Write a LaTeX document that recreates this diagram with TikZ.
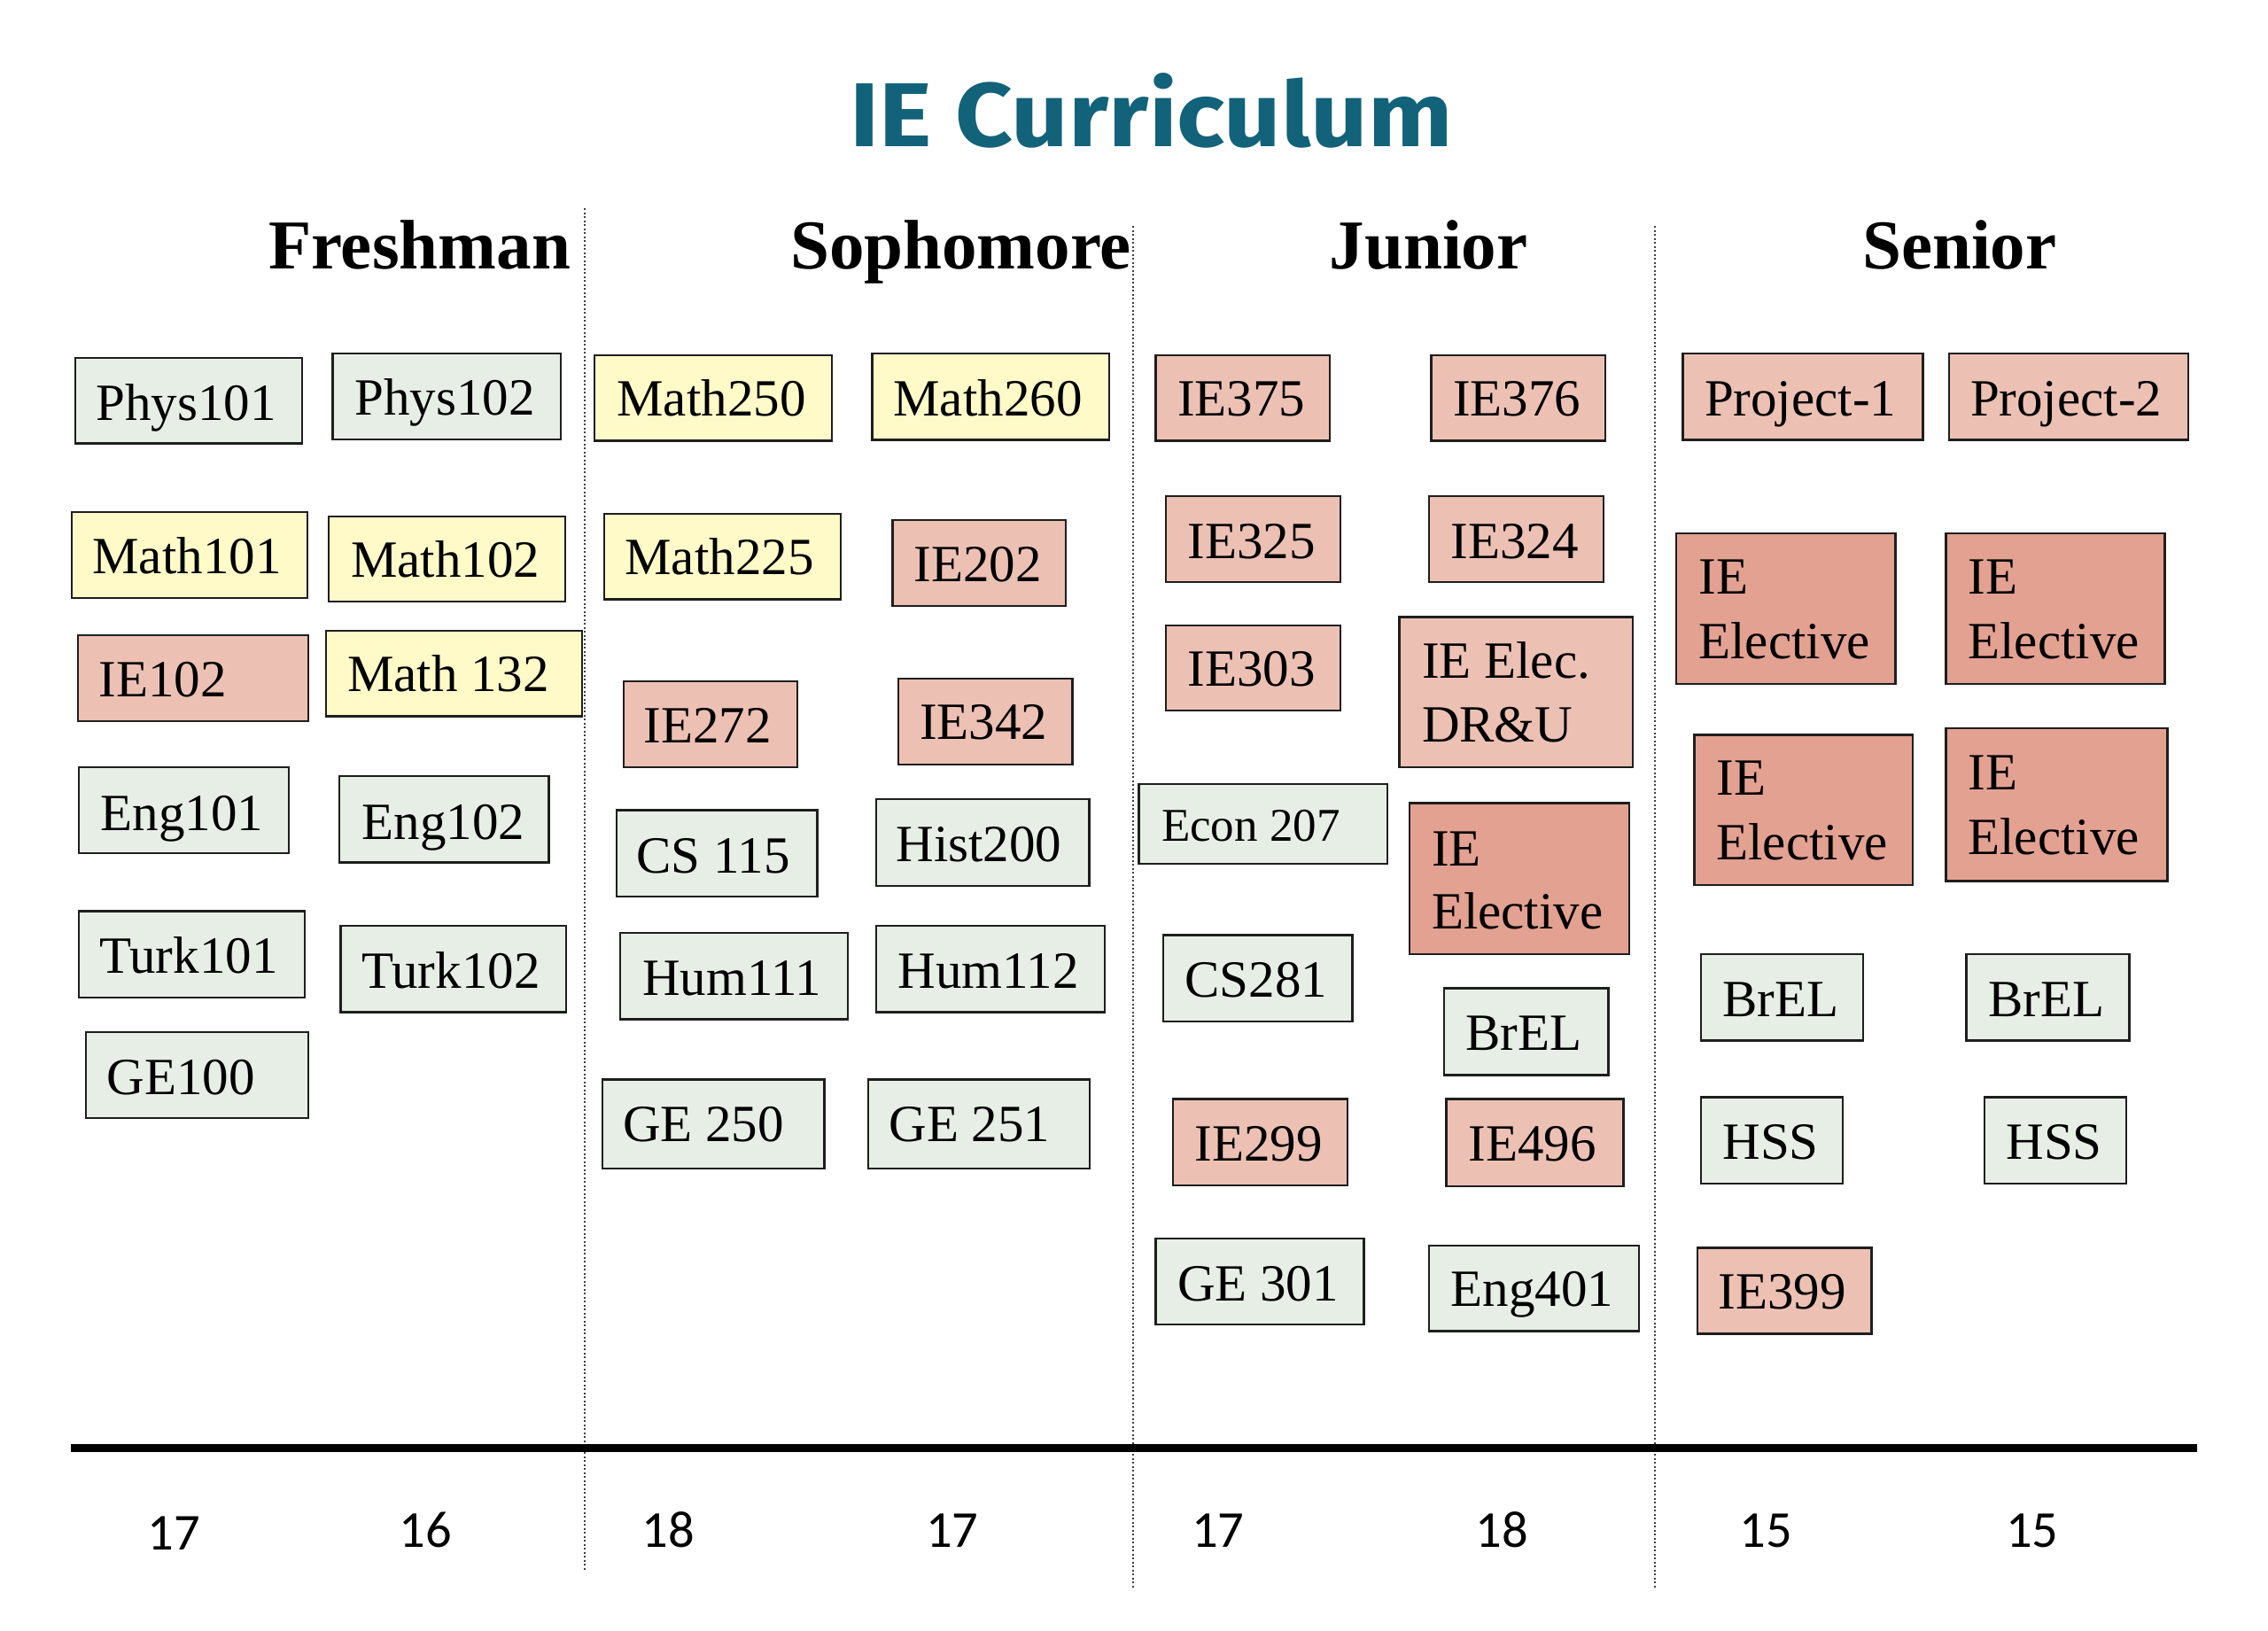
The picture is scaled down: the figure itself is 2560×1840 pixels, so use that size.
\documentclass[tikz,border=0pt]{standalone}
\usepackage{fontspec}
\usepackage{graphicx}
\setmainfont{Liberation Serif}
\newfontfamily\calfont{Carlito}
\newfontfamily\titlefont{Fira Sans}
\definecolor{cgrey}{RGB}{231,238,230}
\definecolor{cyel}{RGB}{255,250,200}
\definecolor{cpink}{RGB}{236,193,180}
\definecolor{cdark}{RGB}{226,161,145}
\definecolor{ctitle}{RGB}{18,98,122}
\definecolor{cborder}{RGB}{30,30,30}
\tikzset{
  crsbase/.style={draw=cborder, line width=2.5pt, font=\fontsize{59}{73}\selectfont},
  gcrs/.style={crsbase, fill=cgrey},
  ycrs/.style={crsbase, fill=cyel},
  pcrs/.style={crsbase, fill=cpink},
  dcrs/.style={crsbase, fill=cdark},
  yearhead/.style={anchor=base, inner sep=0pt, font=\fontsize{79}{79}\selectfont\bfseries},
  credit/.style={anchor=base, inner sep=0pt, font=\calfont\fontsize{58.5}{58.5}\selectfont},
  sepline/.style={draw=black!75, line width=2pt, dash pattern=on 2pt off 2.5pt},
}
% #1 name, #2 style, #3 x1, #4 y1, #5 x2, #6 y2, #7 text left, #8 first baseline, #9 text
\newcommand{\crsnl}{\\\hspace*{\cP pt}}
\newcommand{\crs}[9]{%
  \pgfmathsetmacro{\cW}{#5-#3}%
  \pgfmathsetmacro{\cP}{#7-#3-1.5}%
  \pgfmathsetmacro{\cB}{#8-#4}%
  \pgfmathsetmacro{\cD}{#6-#8}%
  \node[#2, anchor=north west, inner sep=0pt, outer sep=0pt,
        text width=\cW pt, text height=\cB pt, text depth=\cD pt, align=flush left]
        (#1) at (#3,#4) {\hspace*{\cP pt}#9};}
\begin{document}
\begin{tikzpicture}[x=1pt, y=-1pt]
\useasboundingbox (0,0) rectangle (2560,1840);
\fill[white] (0,0) rectangle (2560,1840);

% title
\node[anchor=base, inner sep=0pt, text=ctitle] (title) at (1299.6,165)
  {\resizebox{680pt}{83pt}{\titlefont\bfseries\fontsize{100}{100}\selectfont IE Curriculum}};

% year headings
\node[yearhead] (fresh) at (473.5,303.3) {Freshman};
\node[yearhead] (soph) at (1084.5,303.3) {Sophomore};
\node[yearhead] (junior) at (1612.6,303.3) {Junior};
\node[yearhead] (senior) at (2211.8,303.3) {Senior};

% separators
\coordinate (s1t) at (659.5,235); \coordinate (s1b) at (659.5,1772);
\coordinate (s2t) at (1278.5,255); \coordinate (s2b) at (1278.5,1792);
\coordinate (s3t) at (1867.8,255); \coordinate (s3b) at (1867.8,1792);
\draw[sepline] (s1t) -- (s1b);
\draw[sepline] (s2t) -- (s2b);
\draw[sepline] (s3t) -- (s3b);

% baseline rule
\coordinate (rl) at (80,1634.4); \coordinate (rr) at (2480,1634.4);
\draw[line width=9pt, black] (rl) -- (rr);

% Freshman
\crs{phys101}{gcrs}{85}{404}{341}{500.5}{110}{474}{Phys101}
\crs{math101}{ycrs}{81}{578}{347}{675}{106}{647}{Math101}
\crs{ie102}{pcrs}{88}{717}{348}{814}{113}{786}{IE102}
\crs{eng101}{gcrs}{89}{866}{326}{963}{115}{937}{Eng101}
\crs{turk101}{gcrs}{89}{1028.5}{344}{1126}{114}{1098}{Turk101}
\crs{ge100}{gcrs}{97}{1165}{348}{1262}{122}{1235}{GE100}
\crs{phys102}{gcrs}{375.5}{399}{633}{496}{402}{468}{Phys102}
\crs{math102}{ycrs}{371}{583}{638}{679}{397.5}{651}{Math102}
\crs{math132}{ycrs}{368}{712}{657}{808.5}{393.5}{780}{Math 132}
\crs{eng102}{gcrs}{383}{876}{619.5}{973.5}{410}{947}{Eng102}
\crs{turk102}{gcrs}{384.5}{1045}{639}{1142.5}{410}{1115}{Turk102}

% Sophomore
\crs{math250}{ycrs}{671}{401}{939}{497.5}{698}{469.5}{Math250}
\crs{math225}{ycrs}{682}{580}{949}{676.5}{707}{648}{Math225}
\crs{ie272}{pcrs}{704}{769}{900}{866}{728}{838}{IE272}
\crs{cs115}{gcrs}{696}{914.5}{922.5}{1012}{720}{985}{CS 115}
\crs{hum111}{gcrs}{700}{1053}{957}{1150.5}{726.5}{1123}{Hum111}
\crs{ge250}{gcrs}{680}{1218.5}{930.5}{1319}{704.5}{1288.5}{GE 250}
\crs{math260}{ycrs}{984.5}{399}{1252}{496.5}{1010}{469.5}{Math260}
\crs{ie202}{pcrs}{1007.5}{587}{1203}{684}{1033}{656}{IE202}
\crs{ie342}{pcrs}{1014}{766}{1210.5}{863}{1039.5}{834}{IE342}
\crs{hist200}{gcrs}{989}{902}{1229.5}{1000}{1013}{972}{Hist200}
\crs{hum112}{gcrs}{989}{1045}{1247}{1142.5}{1015}{1115}{Hum112}
\crs{ge251}{gcrs}{980}{1218.5}{1230}{1319}{1005}{1288.5}{GE 251}

% Junior
\crs{ie375}{pcrs}{1304.5}{401}{1501}{497.5}{1330.5}{469.5}{IE375}
\crs{ie325}{pcrs}{1316}{560}{1513}{657}{1342}{630.5}{IE325}
\crs{ie303}{pcrs}{1316}{706}{1513}{802}{1342}{774.5}{IE303}
\crs{econ207}{gcrs, font=\fontsize{53}{60}\selectfont}{1285.5}{885}{1566}{975}{1312.5}{949}{Econ 207}
\crs{cs281}{gcrs}{1313}{1055.5}{1526.5}{1153}{1339}{1125.5}{CS281}
\crs{ie299}{pcrs}{1324}{1240.5}{1521}{1338}{1350}{1310}{IE299}
\crs{ge301}{gcrs}{1304.5}{1398}{1539.5}{1495}{1330.5}{1468.5}{GE 301}
\crs{ie376}{pcrs}{1615.5}{401}{1812}{497.5}{1641.5}{469.5}{IE376}
\crs{ie324}{pcrs}{1613}{560}{1810}{657}{1639}{630.5}{IE324}
\crs{ieelecdru}{pcrs, font=\fontsize{59}{71.6}\selectfont}{1579.5}{696.5}{1843}{866}{1606.5}{765.7}{IE Elec.\crsnl DR\&U}
\crs{ieelecj}{dcrs, font=\fontsize{59}{71.5}\selectfont}{1591}{906.5}{1839}{1077}{1617.5}{977}{IE\crsnl Elective}
\crs{brelj}{gcrs}{1630}{1115.5}{1815.5}{1213.5}{1656}{1185}{BrEL}
\crs{ie496}{pcrs}{1632.5}{1240.5}{1832.5}{1339}{1659}{1310}{IE496}
\crs{eng401}{gcrs}{1613}{1406}{1850}{1502.5}{1639}{1474.5}{Eng401}

% Senior
\crs{proj1}{pcrs}{1899.5}{399}{2170.5}{496.5}{1925.5}{469.5}{Project-1}
\crs{ieelecsa}{dcrs}{1892}{602}{2139.5}{772}{1919}{670.6}{IE\crsnl Elective}
\crs{ieelecsb}{dcrs}{1912.5}{829.5}{2159}{999}{1939}{897.7}{IE\crsnl Elective}
\crs{brelsa}{gcrs}{1920}{1077}{2103}{1174.5}{1946}{1147}{BrEL}
\crs{hssa}{gcrs}{1920}{1238.5}{2080}{1336}{1946}{1308.5}{HSS}
\crs{ie399}{pcrs}{1916}{1408.5}{2112.5}{1505.5}{1941}{1477.5}{IE399}
\crs{proj2}{pcrs}{2200}{399}{2470}{496.5}{2225.5}{469.5}{Project-2}
\crs{ieelecsc}{dcrs}{2196.5}{602}{2443.5}{772}{2223}{670.6}{IE\crsnl Elective}
\crs{ieelecsd}{dcrs, font=\fontsize{59}{72.2}\selectfont}{2196.5}{822}{2446.5}{994.5}{2223}{891.8}{IE\crsnl Elective}
\crs{brelsb}{gcrs}{2219.5}{1077}{2403.5}{1174.5}{2246}{1147}{BrEL}
\crs{hssb}{gcrs}{2240}{1238.5}{2400}{1336}{2266}{1308.5}{HSS}

% credits
\node[credit] (c1) at (196,1749) {17};
\node[credit] (c2) at (480.4,1746) {16};
\node[credit] (c3) at (754.3,1746) {18};
\node[credit] (c4) at (1074.7,1746) {17};
\node[credit] (c5) at (1374.7,1746) {17};
\node[credit] (c6) at (1695.2,1746) {18};
\node[credit] (c7) at (1993.5,1746) {15};
\node[credit] (c8) at (2293.8,1746) {15};
\end{tikzpicture}
\end{document}
